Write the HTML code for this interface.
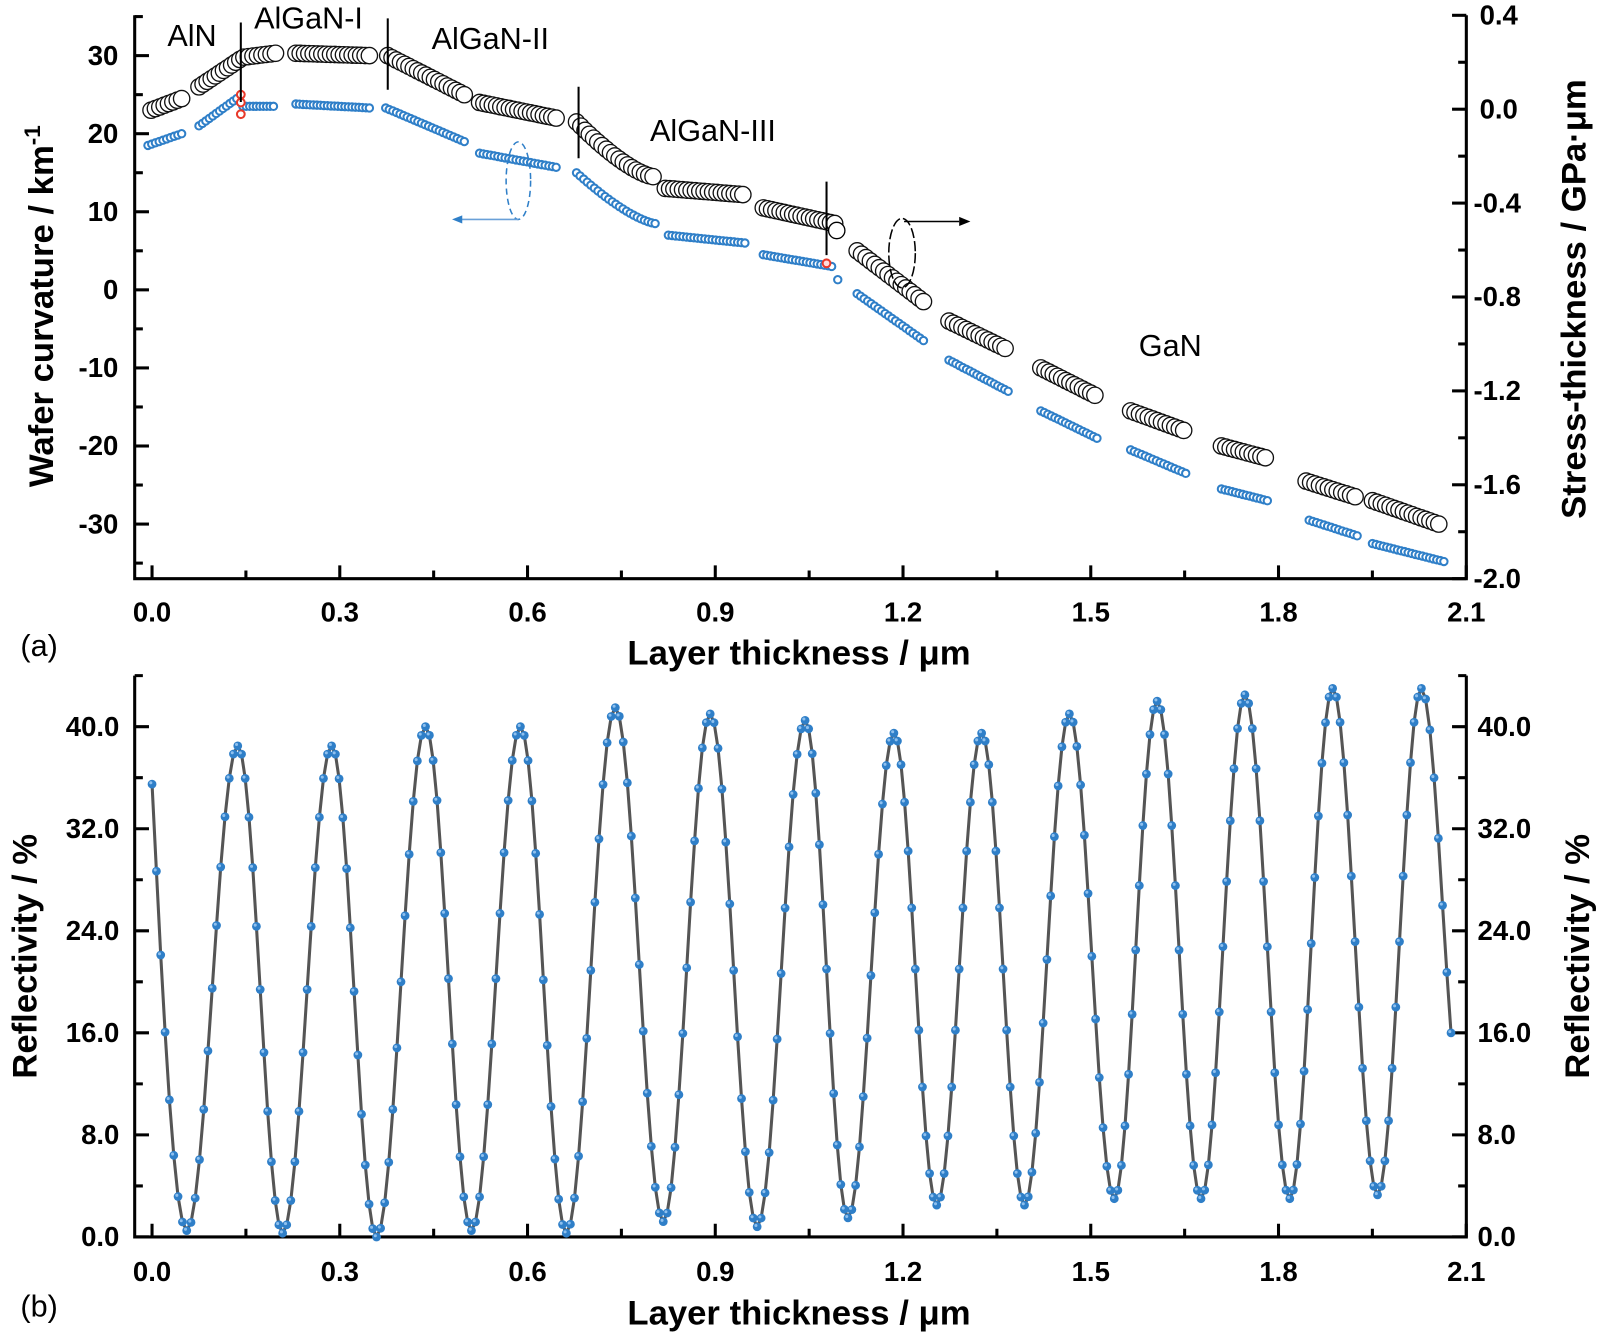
<!DOCTYPE html>
<html><head><meta charset="utf-8"><style>
html,body{margin:0;padding:0;background:#fff;}
svg{display:block;font-family:"Liberation Sans",Arial,sans-serif;}
</style></head><body>
<svg id="s" xmlns="http://www.w3.org/2000/svg" width="1600" height="1338" viewBox="0 0 1568 1311" preserveAspectRatio="none">
<rect width="1568" height="1311" fill="#fff"/>
<g id="g"></g>
</svg>
<script>
var g=document.getElementById('g');var h='';
function X(t){return 149+613.3*t;}
function Yc(c){return 284-7.65*c;}
function Yr(r){return 1212-12.5*r;}
function xd2t(x){return (x-149)/613.3;}
h+='<g stroke="#000" stroke-width="3" fill="none">';
h+='<path d="M132,15 V567 H1437 V15"/>';
h+='<path d="M132,662 V1212 H1437 V662"/>';
for(var i=0;i<=14;i++){var x=X(i*0.15),L=(i%2==0)?13:8;
 h+='<path d="M'+x+',567 v-'+L+'M'+x+',1212 v-'+L+'"/>';}
for(var c=-35;c<=35;c+=5){var y=Yc(c);if(y<15||y>567)continue;var L=(c%10==0)?14:8;h+='<path d="M132,'+y+' h'+L+'"/>';}
for(var k=0;k<=12;k++){var y=15+k*46;var L=(k%2==0)?14:8;h+='<path d="M1437,'+y+' h-'+L+'"/>';}
for(var r=0;r<=44;r+=4){var y=Yr(r);var L=(r%8==0)?14:8;h+='<path d="M132,'+y+' h'+L+'M1437,'+y+' h-'+L+'"/>';}
h+='</g>';
h+='<g font-size="27" font-weight="bold" fill="#000">';
var xl=['0.0','0.3','0.6','0.9','1.2','1.5','1.8','2.1'];
for(var i=0;i<8;i++){var x=X(i*0.3);h+='<text x="'+x+'" y="609" text-anchor="middle">'+xl[i]+'</text><text x="'+x+'" y="1255" text-anchor="middle">'+xl[i]+'</text>';}
for(var c=-30;c<=30;c+=10){h+='<text x="116" y="'+(Yc(c)+9)+'" text-anchor="end">'+c+'</text>';}
var rl=['0.4','0.0','-0.4','-0.8','-1.2','-1.6','-2.0'];
for(var k=0;k<7;k++){h+='<text x="'+(k==0||k==1?1450:1444)+'" y="'+(15+k*92+9)+'">'+rl[k]+'</text>';}
for(var r=0;r<=40;r+=8){var y=Yr(r)+9;h+='<text x="117" y="'+y+'" text-anchor="end">'+r.toFixed(1)+'</text><text x="1448" y="'+y+'">'+r.toFixed(1)+'</text>';}
h+='</g>';
h+='<g font-size="34" font-weight="bold">';
h+='<text x="783" y="651" text-anchor="middle">Layer thickness / μm</text>';
h+='<text x="783" y="1298" text-anchor="middle">Layer thickness / μm</text>';
h+='<text transform="translate(52,300) rotate(-90)" text-anchor="middle">Wafer curvature / km<tspan dy="-13" font-size="22">-1</tspan></text>';
h+='<text transform="translate(1554,293) rotate(-90)" text-anchor="middle">Stress-thickness / GPa·μm</text>';
h+='<text transform="translate(36,937) rotate(-90)" text-anchor="middle">Reflectivity / %</text>';
h+='<text transform="translate(1557,937) rotate(-90)" text-anchor="middle">Reflectivity / %</text>';
h+='</g>';
h+='<g font-size="30"><text x="20" y="643">(a)</text><text x="20" y="1290">(b)</text>';
h+='<text x="164" y="45">AlN</text><text x="249" y="28">AlGaN-I</text><text x="423" y="48">AlGaN-II</text><text x="637" y="138">AlGaN-III</text><text x="1116" y="349">GaN</text></g>';
var B=[[148,178,23,24.5],[195,235,26,29.5],[239,270,29.8,30.3],[290,362,30.3,30],[380,455,30,25],[470,545,24,22],[565,640,21.5,14.5,1],[652,728,13,12.2],[748,818,10.5,8.5],[840,905,5,-1.5],[930,985,-4,-7.5],[1020,1073,-10,-13.5],[1108,1160,-15.5,-18],[1197,1240,-20,-21.5],[1280,1328,-24.5,-26.5],[1345,1410,-27,-30]];
var Bl=[[145,178,18.5,20],[195,232,21,24.5],[238,268,23.5,23.5],[290,362,23.8,23.3],[378,455,23.3,19],[470,545,17.5,15.7],[565,642,15,8.5,1],[655,730,7,6],[748,815,4.5,3],[840,905,-0.5,-6.5],[930,988,-9,-13],[1020,1075,-15.5,-19],[1108,1162,-20.5,-23.5],[1197,1242,-25.5,-27],[1283,1330,-29.5,-31.5],[1345,1415,-32.5,-34.8]];
function seg(a,r,col,sw,step){var s='';var n=Math.max(2,Math.round((a[1]-a[0])/step));
 for(var i=0;i<=n;i++){var f=i/n;var ff=a[4]?(1-Math.pow(1-f,1.4)):f;var x=a[0]+(a[1]-a[0])*f;var c=a[2]+(a[3]-a[2])*ff;
 s+='<circle cx="'+x.toFixed(1)+'" cy="'+Yc(c).toFixed(1)+'" r="'+r+'" fill="#fff" stroke="'+col+'" stroke-width="'+sw+'"/>';}return s;}
for(var i=0;i<Bl.length;i++)h+=seg(Bl[i],3.6,'#2f7fc8',2,3.5);
h+='<circle cx="821" cy="'+Yc(1.3)+'" r="3.6" fill="#fff" stroke="#2f7fc8" stroke-width="2"/>';
for(var i=0;i<B.length;i++)h+=seg(B[i],8,'#111',1.3,4.2);
h+='<circle cx="820" cy="'+Yc(7.6)+'" r="8" fill="#fff" stroke="#000" stroke-width="1.3"/>';
[25,24,22.5].forEach(function(c){h+='<circle cx="236" cy="'+Yc(c)+'" r="3.8" fill="#fff" stroke="#e8392a" stroke-width="2"/>';});
h+='<circle cx="810" cy="'+Yc(3.4)+'" r="3.8" fill="#fdd" stroke="#e8392a" stroke-width="2"/>';
h+='<g stroke="#000" stroke-width="2"><path d="M236,22V100M380,18V88M567,85V155M810,178V250"/></g>';
h+='<ellipse cx="508" cy="177" rx="12" ry="38" fill="none" stroke="#2f7fc8" stroke-width="1.5" stroke-dasharray="6,4"/>';
h+='<path d="M508,215H452" stroke="#6aa0d8" stroke-width="1.5"/><path d="M443,215 l10,-4 v8z" fill="#2f7fc8"/>';
h+='<ellipse cx="884" cy="248" rx="13" ry="34" fill="none" stroke="#000" stroke-width="1.5" stroke-dasharray="10,3"/>';
h+='<path d="M886,217H940" stroke="#000" stroke-width="1.5"/><path d="M951,217 l-11,-4.5 v9z" fill="#000"/>';
var ext=[[149,35.5],[183,0.5],[233,38.5],[277,0.3],[325,38.5],[369,0],[417,40],[462,0.5],[510,40],[555,0.3],[603,41.5],[650,1.2],[696,41],[742,0.8],[789,40.5],[831,1.5],[876,39.5],[918,2.5],[962,39.5],[1004,2.5],[1048,41],[1092,3],[1134,42],[1177,3],[1220,42.5],[1264,3],[1306,43],[1350,3.3],[1393,43]];
var pts=[];
for(var k=0;k<ext.length-1;k++){var a=ext[k],b=ext[k+1];var n=(k==0)?8:12;
 for(var i=(k==0?0:1);i<=n;i++){var f=i/n;var x=a[0]+(b[0]-a[0])*f;var w=(1-Math.cos(Math.PI*f))/2;
 if(k==0){w=Math.sin(Math.PI/2*f);}
 pts.push([x,a[1]+(b[1]-a[1])*w]);}}
var n=7;for(var i=1;i<=n;i++){var f=i/n;var x=1393+(1422-1393)*f;var w=(1-Math.cos(Math.PI*f*0.7))/(1-Math.cos(Math.PI*0.7));pts.push([x,43+(16-43)*w]);}
var d='M'+pts.map(function(p){return X(xd2t(p[0])).toFixed(1)+','+Yr(p[1]).toFixed(1);}).join('L');
h+='<path d="'+d+'" fill="none" stroke="#555" stroke-width="3"/>';
pts.forEach(function(p){var x=p[0],y=Yr(p[1]);h+='<circle cx="'+x.toFixed(1)+'" cy="'+y.toFixed(1)+'" r="4.3" fill="#2f7fc8"/><circle cx="'+(x-1.2).toFixed(1)+'" cy="'+(y-1.2).toFixed(1)+'" r="1.5" fill="#8fc0ee"/>';});
g.innerHTML=h;
</script>
</body></html>
